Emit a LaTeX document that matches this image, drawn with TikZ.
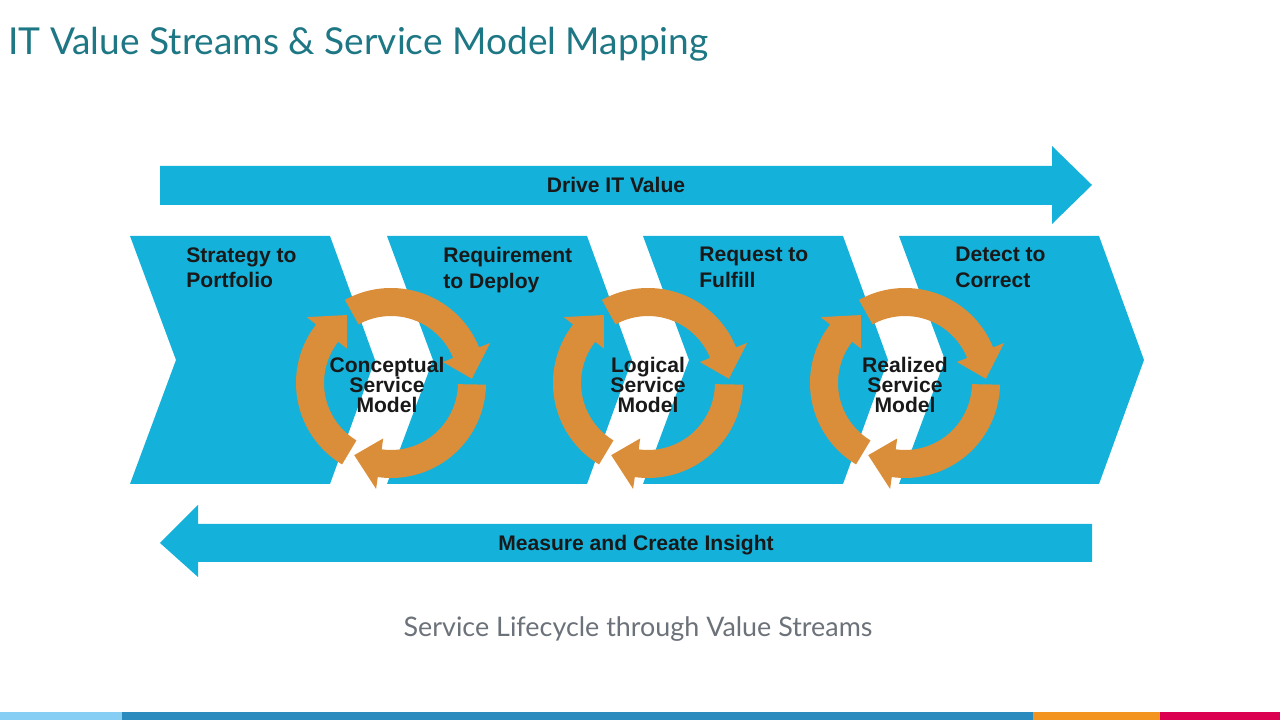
\documentclass[tikz,border=0pt]{standalone}
\usepackage{fontspec}
\setmainfont{Liberation Sans}
\newfontfamily\slidefont{Lato}
\usepackage{xcolor}
\definecolor{StreamBlue}{HTML}{14B1DA}
\definecolor{CycleOrange}{HTML}{DB8E3A}
\definecolor{TitleTeal}{HTML}{1E7784}
\definecolor{CaptionGrey}{HTML}{6C7279}
\definecolor{BarSky}{HTML}{87CEF5}
\definecolor{BarBlue}{HTML}{2B8ABE}
\definecolor{BarOrange}{HTML}{F39420}
\definecolor{BarCrimson}{HTML}{DC0050}
\usepackage{tikz}
\usetikzlibrary{positioning}
\tikzset{
  vstream/.style={fill=StreamBlue,draw=none},
  vcycle/.style={fill=CycleOrange,draw=none},
  vlabel/.style={font=\bfseries\fontsize{12}{14.5}\selectfont,align=left,anchor=north west,inner sep=0pt,text=black!90},
  vmodel/.style={font=\bfseries\fontsize{12}{11.6}\selectfont\setlength{\lineskiplimit}{-6pt},align=center,inner sep=0pt,text=black!90},
  vbar/.style={font=\bfseries\fontsize{12}{14}\selectfont,inner sep=0pt,text=black!90}
}

\begin{document}
\begin{tikzpicture}[x=0.2mm,y=0.2mm]
  \useasboundingbox (0,0) rectangle (1280,720);
  \fill[white] (0,0) rectangle (1280,720);
  % title and caption
  \node[font=\slidefont\fontsize{21.1}{25}\selectfont,text=TitleTeal,anchor=base west,inner sep=0pt] (title) at (8,665) {IT Value Streams \& Service Model Mapping};
  \node[font=\slidefont\fontsize{15.3}{18}\selectfont,text=CaptionGrey,anchor=base,inner sep=0pt] (caption) at (638,83) {Service Lifecycle through Value Streams};
  % drive / measure arrows
  \fill[vstream] (160,515) -- (1052,515) -- (1052,496) -- (1092,535) -- (1052,574) -- (1052,554) -- (160,554) -- cycle;
  \node[vbar] (drive) at (616,535) {Drive IT Value};
  \fill[vstream] (1092,158) -- (198,158) -- (198,143) -- (160,177) -- (198,215) -- (198,196) -- (1092,196) -- cycle;
  \node[vbar] (measure) at (636,175) {Measure and Create Insight};
  % value stream chevrons
  \foreach \x in {130,387,643,899}
    \fill[vstream] (\x,484) -- ++(200,0) -- ++(45,-124) -- ++(-45,-124) -- ++(-200,0) -- ++(46,124) -- cycle;
  \node[vlabel] (s2p) at (186,473) {Strategy to\\Portfolio};
  \node[vlabel] (r2d) at (443,473) {Requirement\\to Deploy};
  \node[vlabel] (r2f) at (699,473) {Request to\\Fulfill};
  \node[vlabel] (d2c) at (955,473) {Detect to\\Correct};
  % service model cycles
  \foreach \cx in {391,648,905}
    \foreach \t in {119,-1,-121}
      \fill[vcycle,shift={(\cx,337)}] (\t:95) arc[start angle=\t,end angle=\t-97,radius=95]
        -- ({\t-97}:107) -- ({\t-116}:81) -- ({\t-97}:56) -- ({\t-97}:67)
        arc[start angle=\t-97,end angle=\t,radius=67] -- cycle;
  \node[vmodel] (csm) at (387,335) {Conceptual\\Service\\Model};
  \node[vmodel] (lsm) at (648,335) {Logical\\Service\\Model};
  \node[vmodel] (rsm) at (905,335) {Realized\\Service\\Model};
  % footer band
  \fill[BarSky] (0,0) rectangle (122,8);
  \fill[BarBlue] (122,0) rectangle (1033,8);
  \fill[BarOrange] (1033,0) rectangle (1160,8);
  \fill[BarCrimson] (1160,0) rectangle (1280,8);
\end{tikzpicture}
\end{document}
